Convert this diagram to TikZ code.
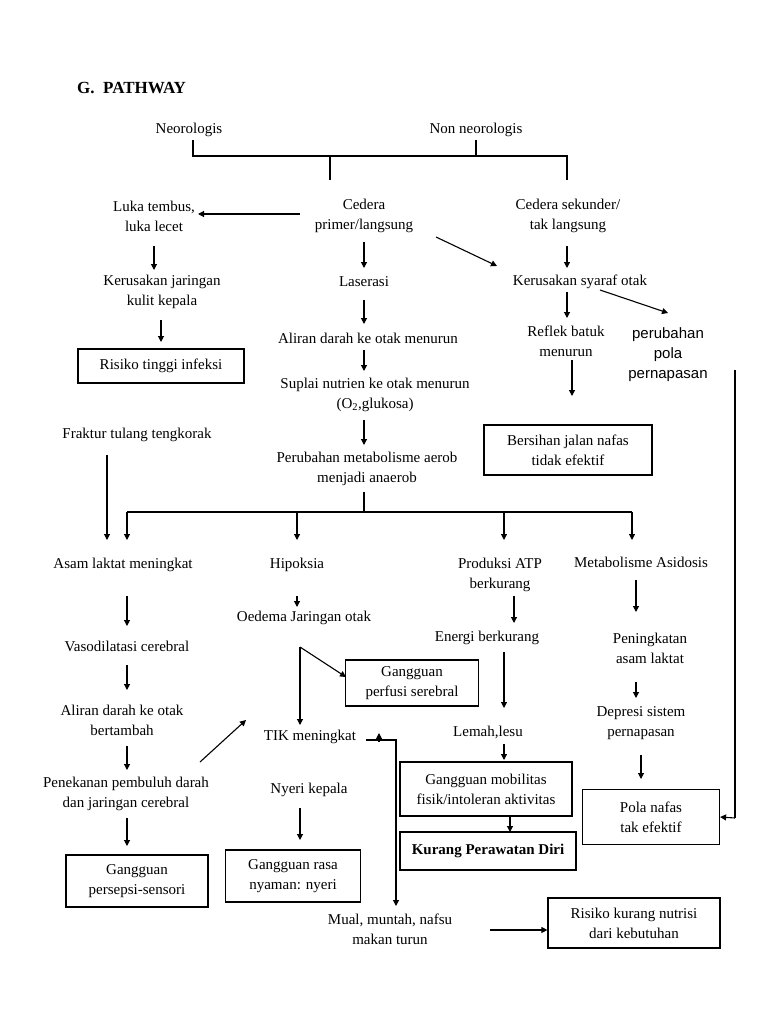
\documentclass[tikz,border=0pt]{standalone}
\usepackage{fontspec}
\setmainfont{Liberation Serif}
\newfontfamily\sansf{Liberation Sans}
\usetikzlibrary{arrows.meta}
\begin{document}
\begin{tikzpicture}[x=1pt,y=-1pt,
  every node/.style={font=\fontsize{15}{20}\selectfont,align=center,inner sep=1pt},
  box/.style={draw,line width=1.2pt,minimum height=34pt,inner sep=4pt},
  a/.style={-{Triangle[length=6pt,width=6pt]},line width=1.1pt},
  l/.style={line width=1.1pt}]
\useasboundingbox (0,0) rectangle (768,1024);
\node[anchor=west,font=\fontsize{17}{20}\selectfont\bfseries] (title) at (76,88) {G.\ \ PATHWAY};
\node (neo) at (189,130) {Neorologis};
\node (non) at (476,130) {Non neorologis};
\coordinate (h1) at (193,156); \coordinate (h2) at (567,156);
\draw[l] (193,140) -- (h1) -- (h2) -- (567,180);
\draw[l] (476,140) -- (476,156);
\draw[l] (330,156) -- (330,180);
\node (ced) at (364,216) {Cedera\\primer/langsung};
\node (sek) at (568,216) {Cedera sekunder/\\tak langsung};
\node (luka) at (154,216) {Luka tembus,\\luka lecet};
\draw[a] (300,214) -- (198,214);
\node (kj) at (162,292) {Kerusakan jaringan\\kulit kepala};
\draw[a] (154,246) -- (154,270);
\node[box,minimum width=166pt] (rti) at (161,366) {Risiko tinggi infeksi};
\draw[a] (161,320) -- (161,342);
\node (las) at (364,282) {Laserasi};
\draw[a] (364,242) -- (364,268);
\node (ks) at (580,282) {Kerusakan syaraf otak};
\draw[a] (436,237) -- (497,266);
\draw[a] (567,246) -- (567,268);
\node[font=\sansf\fontsize{15}{20}\selectfont] (ppp) at (668,355) {perubahan\\pola\\pernapasan};
\draw[a] (600,290) -- (668,313);
\node (rb) at (566,341) {Reflek batuk\\menurun};
\draw[a] (567,292) -- (567,318);
\node[box,minimum width=168pt,minimum height=50pt] (bjn) at (568,450) {Bersihan jalan nafas\\tidak efektif};
\draw[a] (572,360) -- (572,396);
\node (ad) at (368,338) {Aliran darah ke otak menurun};
\draw[a] (364,300) -- (364,324);
\node (sn) at (375,395) {Suplai nutrien ke otak menurun\\(O\textsubscript{2},glukosa)};
\draw[a] (364,350) -- (364,371);
\node (pm) at (367,469) {Perubahan metabolisme aerob\\menjadi anaerob};
\draw[a] (364,420) -- (364,445);
\node (fr) at (137,435) {Fraktur tulang tengkorak};
\draw[a] (107,455) -- (107,540);
\draw[l] (364,492) -- (364,512);
\draw[l] (127,512) -- (632,512);
\draw[a] (127,512) -- (127,540);
\draw[a] (297,512) -- (297,540);
\draw[a] (504,512) -- (504,540);
\draw[a] (632,512) -- (632,540);
\node (al) at (123,565) {Asam laktat meningkat};
\node (hip) at (297,565) {Hipoksia};
\node (atp) at (500,575) {Produksi ATP\\berkurang};
\node (ma) at (641,562) {Metabolisme Asidosis};
\node (oed) at (304,618) {Oedema Jaringan otak};
\draw[a] (297,596) -- (297,607);
\node (vas) at (127,646) {Vasodilatasi cerebral};
\draw[a] (127,596) -- (127,626);
\node (ab) at (122,720) {Aliran darah ke otak\\bertambah};
\draw[a] (127,665) -- (127,690);
\node (pen) at (126,794) {Penekanan pembuluh darah\\dan jaringan cerebral};
\draw[a] (127,746) -- (127,770);
\node[box,minimum width=142pt,minimum height=52pt] (gps) at (137,881) {Gangguan\\persepsi-sensori};
\draw[a] (127,818) -- (127,846);
\node (tik) at (310,737) {TIK meningkat};
\draw[a] (200,762) -- (246,720);
\draw[a] (300,647) -- (300,725);
\draw[a] (300,647) -- (346,677);
\node[box,minimum width=133pt,minimum height=46pt] (gpf) at (412,683) {Gangguan\\perfusi serebral};
\node (en) at (487,638) {Energi berkurang};
\draw[a] (514,596) -- (514,623);
\draw[a] (504,652) -- (504,708);
\node (lem) at (488,732) {Lemah,lesu};
\draw[a] (504,744) -- (504,760);
\node[box,minimum width=172pt,minimum height=54pt] (gm) at (486,789) {Gangguan mobilitas\\fisik/intoleran aktivitas};
\draw[a] (510,816) -- (510,832);
\node[box,minimum width=176pt,minimum height=38pt,font=\fontsize{15}{20}\selectfont\bfseries] (kpd) at (488,851) {Kurang Perawatan Diri};
\node (pal) at (650,648) {Peningkatan\\asam laktat};
\draw[a] (636,580) -- (636,612);
\node (dep) at (641,723) {Depresi sistem\\pernapasan};
\draw[a] (636,682) -- (636,698);
\draw[a] (641,755) -- (641,779);
\node[box,minimum width=137pt,minimum height=55pt] (pn) at (651,817) {Pola nafas\\tak efektif};
\draw[l] (735,370) -- (735,818);
\draw[a] (735,818) -- (pn.east);
\node (nk) at (309,790) {Nyeri kepala};
\draw[a] (300,808) -- (300,840);
\node[box,minimum width=135pt,minimum height=52pt] (grn) at (293,876) {Gangguan rasa\\nyaman: nyeri};
\node (mual) at (390,929) {Mual, muntah, nafsu\\makan turun};
\draw[a] (366,740) -- (396,740) -- (396,906);
\draw[a] (379,742) -- (379,733);
\node[box,minimum width=172pt,minimum height=50pt] (rkn) at (634,923) {Risiko kurang nutrisi\\dari kebutuhan};
\draw[a] (490,930) -- (rkn.west |- 0,930);
\end{tikzpicture}
\end{document}
